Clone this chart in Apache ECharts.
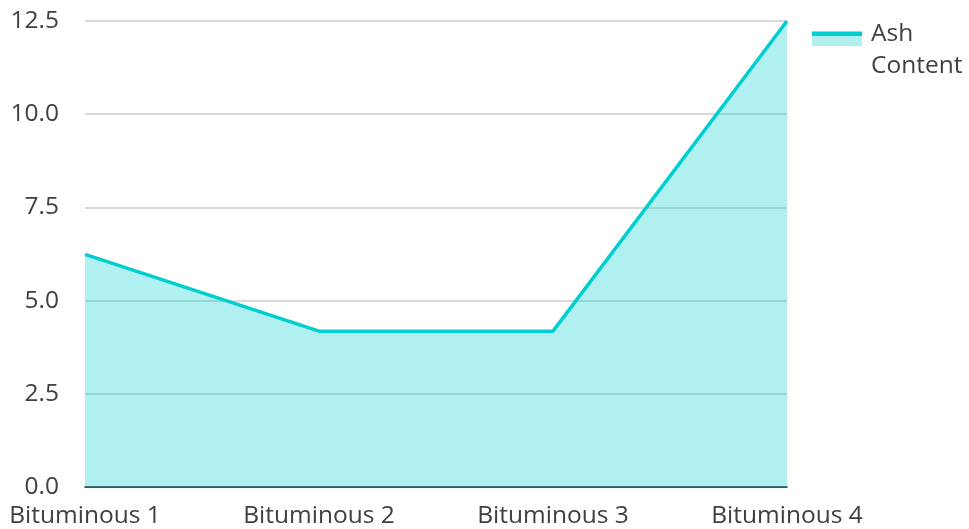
<!DOCTYPE html>
<html><head><meta charset="utf-8">
<script src="https://cdn.jsdelivr.net/npm/echarts@6/dist/echarts.min.js"></script>
<style>html,body{margin:0;padding:0;background:#fff}#c{width:969px;height:529px}</style>
</head><body><div id="c"></div>
<script>
const categories = ['Bituminous 1', 'Bituminous 2', 'Bituminous 3', 'Bituminous 4'];
const ashContent = [6.24, 4.18, 4.18, 12.5];
const seriesName = 'Ash\nContent';
const yTicks = { min: 0, max: 12.5, interval: 2.5 };

const lineColor = '#00CED1';
const font = 'Open Sans';
const fs = 24.5;

const chart = echarts.init(document.getElementById('c'), null, { renderer: 'canvas' });
chart.setOption({
  animation: false,
  textStyle: { fontFamily: font },
  grid: { left: 85, right: 182, top: 21, bottom: 41, containLabel: false },
  legend: {
    show: true,
    left: 812, top: 18, padding: 0,
    orient: 'vertical',
    itemWidth: 50, itemHeight: 37,
    icon: 'rect',
    itemStyle: {
      color: { type: 'linear', x: 0, y: 0, x2: 0, y2: 1, colorStops: [
        { offset: 0, color: lineColor }, { offset: 0.115, color: lineColor },
        { offset: 0.115, color: '#B2EFEF' }, { offset: 0.405, color: '#B2EFEF' },
        { offset: 0.405, color: 'rgba(255,255,255,0)' }, { offset: 1, color: 'rgba(255,255,255,0)' } ] },
      borderWidth: 0
    },
    lineStyle: { width: 0 },
    textStyle: { fontFamily: font, fontSize: fs, color: '#404040', lineHeight: 32, padding: [0, 0, 0, 4] },
    data: [seriesName]
  },
  xAxis: {
    type: 'category',
    data: categories,
    boundaryGap: false,
    axisLine: { lineStyle: { color: '#222', width: 1.5 } },
    axisTick: { show: false },
    axisLabel: { fontFamily: font, fontSize: fs, color: '#404040', margin: 17 },
    splitLine: { show: false }
  },
  yAxis: {
    type: 'value',
    min: yTicks.min, max: yTicks.max, interval: yTicks.interval,
    axisLine: { show: false },
    axisTick: { show: false },
    axisLabel: { fontFamily: font, fontSize: fs, color: '#404040', margin: 26, padding: [4, 0, 0, 0],
      formatter: v => v.toFixed(1) },
    splitLine: { lineStyle: { color: '#cccccc', width: 1.5 } }
  },
  series: [{
    name: seriesName,
    type: 'line',
    data: ashContent,
    showSymbol: false,
    symbol: 'none',
    lineStyle: { color: lineColor, width: 3.5 },
    itemStyle: { color: lineColor },
    areaStyle: { color: lineColor, opacity: 0.31, origin: 'start' },
    z: 1
  }]
});
</script>
</body></html>
